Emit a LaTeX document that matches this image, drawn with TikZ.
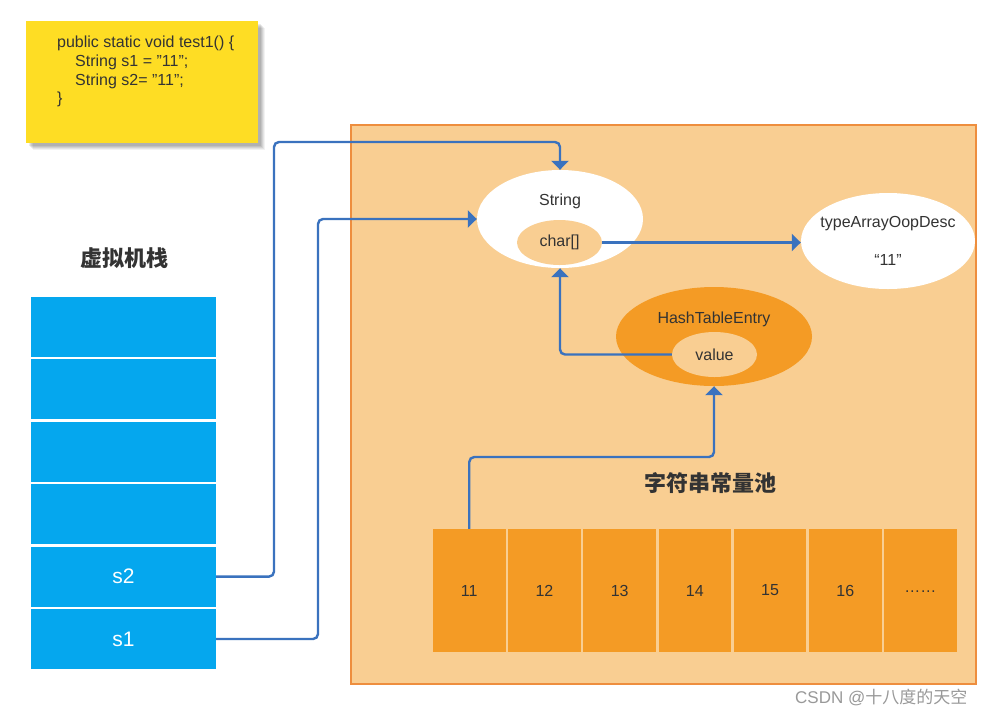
\documentclass[tikz,border=0pt]{standalone}
\usepackage{fontspec}
\setmainfont{Liberation Sans}
\newfontfamily\cjk{Noto Sans CJK SC}
\usetikzlibrary{arrows.meta,shapes.geometric}
\definecolor{yel}{HTML}{FEDD24}
\definecolor{stk}{HTML}{05A7EE}
\definecolor{pool}{HTML}{F9CE92}
\definecolor{poolb}{HTML}{EE8E3E}
\definecolor{org}{HTML}{F49B25}
\definecolor{lnk}{HTML}{3A72BE}
\definecolor{txt}{HTML}{333333}
\tikzset{
 cell/.style={rectangle, fill=stk, minimum width=185pt, minimum height=60pt, inner sep=0pt, text=white, font=\fontsize{21}{24}\selectfont},
 slot/.style={rectangle, fill=org, minimum width=72.5pt, minimum height=123pt, inner sep=0pt, text=txt, font=\fontsize{16}{19}\selectfont},
 lbl/.style={inner sep=0pt, text=txt, font=\fontsize{16}{19}\selectfont},
 ttl/.style={inner sep=0pt, text=txt, font=\cjk\bfseries\fontsize{22}{26}\selectfont},
 conn/.style={draw=lnk, line width=2.4pt, rounded corners=5pt, -{Triangle[length=9pt,width=17pt]}},
 oval/.style={ellipse, inner sep=0pt, draw=none},
}
\begin{document}
\begin{tikzpicture}[x=1pt,y=-1pt]
\useasboundingbox (0,0) rectangle (1000,716);
\fill[white] (0,0) rectangle (1000,716);
% code box shadow
\foreach \d/\o in {7/0.05,6/0.06,5/0.07,4/0.08,3/0.08}
  \fill[black,opacity=\o] (26+\d,21+\d) rectangle (258+\d,143+\d);
\node[rectangle, fill=yel, minimum width=232pt, minimum height=122pt, inner sep=0pt] (code) at (142,82) {};
\node[lbl, anchor=north west, align=left, font=\fontsize{16}{18.7}\selectfont] (codetext) at (57,36)
 {public static void test1() \{\\\hspace*{18pt}String s1 = \char"22 11\char"22;\\\hspace*{18pt}String s2= \char"22 11\char"22;\\\}};
% stack
\node[ttl] (stacktitle) at (124,258) {虚拟机栈};
\node[cell] (c1) at (123.5,327) {};
\node[cell] (c2) at (123.5,389.4) {};
\node[cell] (c3) at (123.5,451.8) {};
\node[cell] (c4) at (123.5,514.2) {};
\node[cell] (s2) at (123.5,576.6) {s2};
\node[cell] (s1) at (123.5,639) {s1};
% pool
\node[rectangle, fill=pool, draw=poolb, line width=1.2pt, minimum width=625pt, minimum height=559pt, inner sep=0pt] (pool) at (663.5,404.5) {};
\node[oval, fill=white, minimum width=166pt, minimum height=98pt] (str) at (560,219) {};
\node[lbl] (strlbl) at (560,201) {String};
\node[oval, fill=pool, minimum width=85pt, minimum height=45pt] (chr) at (559.5,242.5) {};
\node[lbl] (chrlbl) at (559.5,242.5) {char[]};
\node[oval, fill=white, minimum width=174pt, minimum height=96pt] (tad) at (888,241) {};
\node[lbl] (tadlbl) at (888,224) {typeArrayOopDesc};
\node[lbl] (tadval) at (888,260) {“11”};
\node[oval, fill=org, minimum width=196pt, minimum height=99pt] (hte) at (714,336.5) {};
\node[lbl] (htelbl) at (714,319) {HashTableEntry};
\node[oval, fill=pool, minimum width=85pt, minimum height=45pt] (val) at (714.5,354.5) {};
\node[lbl] (vallbl) at (714.5,354.5) {value};
\node[ttl] (pooltitle) at (710,483) {字符串常量池};
\node[slot] (b11) at (469.25,590.5) {11};
\node[slot] (b12) at (544.45,590.5) {12};
\node[slot] (b13) at (619.65,590.5) {13};
\node[slot] (b14) at (694.85,590.5) {14};
\node[slot] (b15) at (770.05,590.5) {15};
\node[slot] (b16) at (845.25,590.5) {16};
\node[slot] (bmore) at (920.45,590.5) {\raisebox{-3pt}{……}};
% connectors
\coordinate (k1) at (274,142);
\coordinate (k2) at (318,219);
\coordinate (k3) at (469.25,457);
\draw[conn] (s2.east) -| (k1) -| (str.north);
\draw[conn] (s1.east) -| (k2) -- (str.west);
\draw[conn] (chr.east) -- (chr.east -| tad.west);
\draw[conn] (val.west) -| (str.south);
\draw[conn] (b11.north) -- (k3) -| (hte.south);
% watermark
\node[inner sep=0pt, anchor=west, text=black!40, font=\fontsize{17}{20}\selectfont] (wm) at (795,697) {CSDN @{\cjk 十八度的天空}};
\end{tikzpicture}
\end{document}
